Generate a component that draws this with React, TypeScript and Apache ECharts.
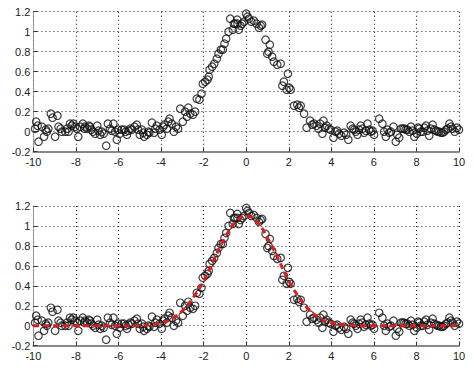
import React, { useEffect, useRef } from "react";
import * as echarts from "echarts";

// Measured points (x, y) – same data in both panels
const pointX: number[] = [
  -9.92, -9.87, -9.8, -9.76, -9.6, -9.5, -9.42, -9.37, -9.3, -9.18, -9.1, -8.98, -8.87, -8.82, -8.72, -8.67,
  -8.5, -8.42, -8.35, -8.28, -8.2, -8.12, -8.04, -7.95, -7.89, -7.8, -7.68, -7.6, -7.57, -7.46, -7.4, -7.34,
  -7.28, -7.2, -7.1, -7.0, -6.94, -6.86, -6.78, -6.7, -6.58, -6.5, -6.4, -6.32, -6.24, -6.16, -6.08, -6.02,
  -5.95, -5.85, -5.74, -5.66, -5.6, -5.53, -5.45, -5.37, -5.25, -5.14, -5.08, -5.0, -4.9, -4.84, -4.8, -4.67,
  -4.6, -4.55, -4.43, -4.33, -4.27, -4.2, -4.07, -3.97, -3.9, -3.85, -3.73, -3.66, -3.6, -3.5, -3.4, -3.3,
  -3.2, -3.1, -2.98, -2.87, -2.78, -2.72, -2.63, -2.5, -2.4, -2.32, -2.2, -2.1, -2.04, -1.93, -1.82, -1.76,
  -1.72, -1.6, -1.5, -1.38, -1.3, -1.19, -1.1, -1.02, -0.94, -0.83, -0.75, -0.63, -0.58, -0.52, -0.42, -0.41,
  -0.35, -0.27, -0.19, -0.1, 0.0, 0.06, 0.13, 0.24, 0.36, 0.49, 0.6, 0.68, 0.75, 0.91, 0.99, 1.05,
  1.11, 1.22, 1.3, 1.46, 1.62, 1.7, 1.77, 1.9, 1.96, 2.02, 2.09, 2.25, 2.4, 2.48, 2.56, 2.72,
  2.84, 3.0, 3.1, 3.19, 3.31, 3.4, 3.47, 3.58, 3.63, 3.7, 3.78, 3.88, 3.97, 4.1, 4.2, 4.28,
  4.36, 4.47, 4.6, 4.7, 4.8, 4.91, 5.0, 5.07, 5.15, 5.23, 5.3, 5.38, 5.46, 5.54, 5.62, 5.7,
  5.78, 5.86, 5.94, 6.01, 6.25, 6.4, 6.48, 6.56, 6.64, 6.72, 6.8, 6.92, 7.03, 7.1, 7.19, 7.27,
  7.35, 7.43, 7.5, 7.58, 7.66, 7.74, 7.82, 7.9, 8.02, 8.08, 8.13, 8.2, 8.29, 8.37, 8.45, 8.52,
  8.6, 8.68, 8.76, 8.84, 8.92, 9.0, 9.07, 9.15, 9.23, 9.3, 9.39, 9.47, 9.55, 9.62, 9.7, 9.8,
  9.9, 10.0,
];
const pointY: number[] = [
  0.03, 0.1, 0.06, -0.1, 0.05, -0.05, 0.02, 0.0, 0.03, 0.18, 0.14, -0.05, 0.16, 0.05, 0.03, 0.0,
  0.0, 0.03, 0.0, 0.08, 0.06, 0.08, 0.05, 0.03, -0.05, 0.05, 0.08, 0.03, 0.05, 0.03, 0.06, 0.05,
  0.02, 0.0, -0.02, 0.06, 0.01, -0.03, 0.0, -0.02, -0.14, 0.08, 0.03, 0.01, 0.08, 0.0, -0.08, 0.02,
  -0.02, 0.02, 0.02, 0.0, -0.03, 0.01, 0.03, 0.02, 0.05, 0.07, 0.02, -0.03, 0.02, -0.01, -0.05, -0.03,
  0.0, -0.01, 0.09, -0.01, 0.03, 0.06, 0.02, -0.03, 0.05, 0.07, 0.03, 0.1, 0.13, 0.08, 0.0, 0.05,
  0.03, 0.23, 0.1, 0.2, 0.15, 0.24, 0.18, 0.17, 0.2, 0.33, 0.32, 0.38, 0.48, 0.5, 0.52, 0.55,
  0.62, 0.65, 0.68, 0.73, 0.78, 0.82, 0.82, 0.88, 0.93, 1.0, 1.13, 1.02, 1.08, 1.08, 1.12, 1.08,
  1.02, 1.06, 1.08, 1.1, 1.18, 1.15, 1.13, 1.1, 1.11, 1.08, 1.04, 1.06, 1.07, 0.92, 0.78, 0.8,
  0.87, 0.75, 0.7, 0.67, 0.68, 0.46, 0.5, 0.42, 0.58, 0.44, 0.42, 0.26, 0.27, 0.24, 0.26, 0.18,
  0.04, 0.11, 0.07, 0.08, 0.06, 0.03, 0.08, -0.02, 0.11, 0.04, 0.06, 0.03, 0.02, -0.06, 0.0, 0.01,
  -0.02, -0.04, -0.01, -0.03, -0.08, 0.06, 0.03, 0.02, 0.0, -0.03, 0.02, 0.06, 0.03, -0.01, 0.01, 0.08,
  0.02, 0.0, 0.01, -0.03, 0.13, 0.08, 0.0, -0.05, 0.02, -0.01, 0.0, 0.05, -0.1, -0.03, -0.06, 0.03,
  0.03, 0.03, 0.02, 0.02, 0.0, 0.05, 0.01, -0.05, -0.02, 0.04, 0.03, 0.0, 0.0, 0.04, 0.06, 0.01,
  -0.04, 0.03, 0.07, 0.02, 0.01, 0.0, 0.0, -0.01, -0.01, 0.0, 0.02, 0.03, 0.08, 0.05, 0.03, 0.0,
  0.04, 0.02,
];

// Fitted curve
const fitX: number[] = [
  -10, -9.5, -9, -8.5, -8, -7.5, -7, -6.5, -6, -5.5, -5, -4.5, -4, -3.5, -3, -2.5, -2, -1.5, -1, -0.5,
  0, 0.5, 1, 1.5, 2, 2.5, 3, 3.5, 4, 4.5, 5, 5.5, 6, 6.5, 7, 7.5, 8, 8.5, 9, 9.5, 10,
];
const fitY: number[] = [
  0, 0, 0, 0, 0, 0, 0, 0, 0, 0, 0.004, 0.01, 0.03, 0.07, 0.15, 0.28, 0.45, 0.67, 0.88, 1.04,
  1.1, 1.04, 0.88, 0.67, 0.45, 0.28, 0.15, 0.07, 0.03, 0.01, 0.004, 0, 0, 0, 0, 0, 0, 0, 0, 0, 0,
];

const xTicks = { min: -10, max: 10, interval: 2 };
const yTicks = { min: -0.2, max: 1.2, interval: 0.2 };

export default function App() {
  const ref = useRef<HTMLDivElement>(null);
  useEffect(() => {
    if (!ref.current) return;
    const chart = echarts.init(ref.current, null, { renderer: "svg" });
    const points = pointX.map((x, i) => [x, pointY[i]]);
    const fit = fitX.map((x, i) => [x, fitY[i]]);
    const labelFont = { fontFamily: "Liberation Sans, Arial, sans-serif", fontSize: 11, color: "#222" };
    const mkX = (gi: number) => ({
      type: "value",
      gridIndex: gi,
      ...xTicks,
      axisLine: { show: true, onZero: false, lineStyle: { color: "#888", width: 2 } },
      axisTick: { show: true, inside: true, length: 4, lineStyle: { color: "#333" } },
      axisLabel: { ...labelFont, margin: 5, formatter: (v: number) => String(Math.round(v)) },
      splitLine: { show: true, lineStyle: { type: [1, 3], color: "#222", width: 1.2 } },
    });
    const mkY = (gi: number) => ({
      type: "value",
      gridIndex: gi,
      ...yTicks,
      axisLine: { show: true, onZero: false, lineStyle: { color: "#999", width: 1 } },
      axisTick: { show: true, inside: true, length: 4, lineStyle: { color: "#333" } },
      axisLabel: {
        ...labelFont,
        margin: 3,
        formatter: (v: number) => String(Math.round(v * 10) / 10),
      },
      splitLine: { show: true, lineStyle: { type: [1, 3], color: "#222", width: 1.2 } },
    });
    const scatterStyle = {
      type: "scatter",
      symbol: "circle",
      symbolSize: 7.5,
      itemStyle: { color: "rgba(255,255,255,0)", borderColor: "#111", borderWidth: 1.2 },
      z: 3,
    };
    chart.setOption({
      animation: false,
      backgroundColor: "#ffffff",
      grid: [
        { left: 33.4, right: 15, top: 11.7, height: 140 },
        { left: 33.4, right: 15, top: 206, height: 139.7 },
      ],
      xAxis: [mkX(0), mkX(1)],
      yAxis: [mkY(0), mkY(1)],
      series: [
        { ...scatterStyle, xAxisIndex: 0, yAxisIndex: 0, data: points },
        { ...scatterStyle, xAxisIndex: 1, yAxisIndex: 1, data: points },
        {
          type: "line",
          xAxisIndex: 1,
          yAxisIndex: 1,
          data: fit,
          smooth: true,
          showSymbol: false,
          lineStyle: { color: "#dd1c1c", width: 3, type: [6, 4] },
          z: 4,
        },
      ],
    });
    return () => chart.dispose();
  }, []);
  return (
    <div
      ref={ref}
      style={{ position: "fixed", left: 0, top: 0, width: 474, height: 379, background: "#fff" }}
    />
  );
}
